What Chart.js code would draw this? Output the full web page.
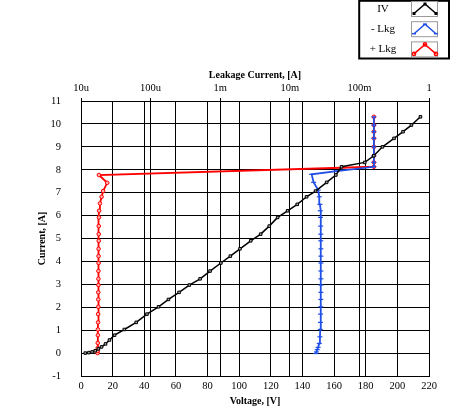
<!DOCTYPE html>
<html>
<head>
<meta charset="utf-8">
<script src="https://cdn.jsdelivr.net/npm/chart.js@4.4.0/dist/chart.umd.min.js"></script>
<style>
  html, body { margin: 0; padding: 0; background: #fff; }
  #wrap { width: 450px; height: 419px; }
</style>
</head>
<body>
<div id="wrap"><canvas id="ivChart"></canvas></div>
<script>
// IV sweep: voltage [V] vs current [A]
const ivVoltage = [2.7, 5.0, 7.0, 9.0, 11.0, 13.0, 15.5, 18.0, 21.2, 27.4, 34.9, 41.7, 49.0, 55.3, 62.0, 68.5,
    75.3, 81.6, 88.4, 94.4, 100.5, 107.3, 113.6, 119.0, 124.3, 130.6, 136.7, 142.6, 148.3, 155.3, 161.1,
    164.7, 179.4, 185.1, 190.6, 197.9, 203.6, 208.9, 214.6];
const ivCurrent = [0.00, 0.02, 0.05, 0.10, 0.18, 0.27, 0.40, 0.57, 0.78, 1.03, 1.34, 1.70, 2.02, 2.34, 2.65, 2.97,
    3.24, 3.58, 3.93, 4.23, 4.55, 4.90, 5.19, 5.54, 5.92, 6.21, 6.49, 6.82, 7.07, 7.45, 7.77,
    8.13, 8.32, 8.61, 9.00, 9.37, 9.66, 9.95, 10.31];

// negative leakage: leakage [A] vs current [A]
const negLeak = [0.0236, 0.0241, 0.0248, 0.0255, 0.0265, 0.0271, 0.0274, 0.0276, 0.0277, 0.0278, 0.0279, 0.0280,
    0.0280, 0.0280, 0.0280, 0.0280, 0.0280, 0.0280, 0.0279, 0.0279, 0.0278, 0.0276, 0.0274, 0.0271, 0.0265,
    0.0256, 0.0220, 0.0206, 0.0471, 0.1615, 0.1615, 0.1615, 0.1615, 0.1615, 0.1615, 0.1615, 0.1615];
const negCurrent = [-0.02, 0.05, 0.15, 0.25, 0.42, 0.71, 1.03, 1.34, 1.70, 2.02, 2.34, 2.65,
    2.97, 3.24, 3.58, 3.93, 4.23, 4.55, 4.90, 5.19, 5.54, 5.92, 6.21, 6.49, 6.82,
    7.11, 7.45, 7.80, 7.94, 8.13, 8.32, 8.61, 9.00, 9.37, 9.66, 9.95, 10.31];

// positive leakage: leakage [A] vs current [A]
const posLeak = [1.73e-5, 1.74e-5, 1.74e-5, 1.74e-5, 1.75e-5, 1.75e-5, 1.76e-5, 1.76e-5, 1.77e-5, 1.77e-5,
    1.77e-5, 1.78e-5, 1.78e-5, 1.78e-5, 1.79e-5, 1.79e-5, 1.79e-5, 1.80e-5, 1.80e-5, 1.80e-5, 1.81e-5,
    1.82e-5, 1.87e-5, 1.98e-5, 2.08e-5, 2.38e-5, 1.81e-5, 0.1615, 0.1615, 0.1615, 0.1615, 0.1615, 0.1615,
    0.1615, 0.1615];
const posCurrent = [0.00, 0.10, 0.22, 0.44, 0.78, 1.03, 1.34, 1.70, 2.02, 2.34,
    2.65, 2.97, 3.24, 3.58, 3.93, 4.23, 4.55, 4.90, 5.19, 5.54, 5.92,
    6.21, 6.53, 6.82, 7.07, 7.43, 7.77, 8.13, 8.32, 8.61, 9.00, 9.37, 9.66,
    9.95, 10.31];

const leakTicks = [1e-5, 1e-4, 1e-3, 1e-2, 1e-1, 1];
const leakTickLabels = ['10u', '100u', '1m', '10m', '100m', '1'];

const legendLabels = ['IV', '- Lkg', '+ Lkg'];
const legendColors = ['#000000', '#1f4fe6', '#ff0000'];

const serif = '"Liberation Serif", "Times New Roman", serif';

function toPoints(xs, ys) {
    return xs.map((x, i) => ({ x: x, y: ys[i] }));
}

// boxed legend in the top right corner
const boxLegend = {
    id: 'boxLegend',
    afterDraw(chart) {
        const ctx = chart.ctx;
        ctx.save();
        ctx.strokeStyle = '#000';
        ctx.lineWidth = 2;
        ctx.strokeRect(359.2, 0.8, 89.8, 57.7);
        ctx.font = '11px ' + serif;
        ctx.textAlign = 'center';
        ctx.textBaseline = 'middle';
        legendLabels.forEach((label, i) => {
            const cy = 9 + i * 20.2;
            ctx.fillStyle = '#000';
            ctx.fillText(label, 383, cy);
            ctx.strokeStyle = '#9a9a9a';
            ctx.lineWidth = 1;
            ctx.strokeRect(411.5, cy - 7.5, 26, 15);
            const pts = [[414, cy + 4.5], [425, cy - 5], [436, cy + 4.5]];
            ctx.strokeStyle = legendColors[i];
            ctx.lineWidth = 1.5;
            ctx.beginPath();
            pts.forEach((p, k) => (k ? ctx.lineTo(p[0], p[1]) : ctx.moveTo(p[0], p[1])));
            ctx.stroke();
            pts.forEach(p => {
                ctx.beginPath();
                if (i === 0) {
                    ctx.fillStyle = '#000';
                    ctx.fillRect(p[0] - 1.5, p[1] - 1.5, 3, 3);
                } else if (i === 1) {
                    ctx.moveTo(p[0] - 2, p[1]);
                    ctx.lineTo(p[0] + 2, p[1]);
                    ctx.stroke();
                } else {
                    ctx.arc(p[0], p[1], 1.6, 0, Math.PI * 2);
                    ctx.stroke();
                }
            });
        });
        ctx.restore();
    }
};

const ctx = document.getElementById('ivChart').getContext('2d');
new Chart(ctx, {
    type: 'scatter',
    data: {
        datasets: [
            {
                label: 'IV',
                data: toPoints(ivVoltage, ivCurrent),
                xAxisID: 'x',
                yAxisID: 'y',
                showLine: true,
                borderColor: '#000',
                borderWidth: 1.5,
                pointStyle: 'rect',
                pointRadius: 1.8,
                pointBorderWidth: 1,
                pointBorderColor: '#000',
                pointBackgroundColor: '#aaa'
            },
            {
                label: '- Lkg',
                data: toPoints(negLeak, negCurrent),
                xAxisID: 'xLeak',
                yAxisID: 'y',
                showLine: true,
                borderColor: '#1f4fe6',
                borderWidth: 1.8,
                pointStyle: 'line',
                pointRadius: 2.5,
                pointBorderWidth: 1.2,
                pointBorderColor: '#1f4fe6'
            },
            {
                label: '+ Lkg',
                data: toPoints(posLeak, posCurrent),
                xAxisID: 'xLeak',
                yAxisID: 'y',
                showLine: true,
                borderColor: '#ff0000',
                borderWidth: 1.8,
                pointStyle: 'circle',
                pointRadius: 1.8,
                pointBorderWidth: 1,
                pointBorderColor: '#ff0000',
                pointBackgroundColor: '#ffb3b3'
            }
        ]
    },
    options: {
        responsive: true,
        maintainAspectRatio: false,
        animation: false,
        layout: { padding: { left: 0, top: 60, right: 21, bottom: 0 } },
        plugins: {
            legend: { display: false },
            tooltip: { enabled: false }
        },
        scales: {
            x: {
                type: 'linear',
                position: 'bottom',
                min: 0,
                max: 220,
                ticks: { stepSize: 20, color: '#000', padding: 4, maxRotation: 0, font: { family: serif, size: 10.5 } },
                grid: { color: '#000', lineWidth: 1, drawTicks: false },
                border: { color: '#000', width: 1 },
                title: {
                    display: true,
                    text: 'Voltage, [V]',
                    color: '#000',
                    font: { family: serif, size: 10, weight: 'bold' },
                    padding: { top: 0, bottom: 12 }
                },
                afterFit: s => { s.height = 43; }
            },
            xLeak: {
                type: 'logarithmic',
                position: 'top',
                min: 1e-5,
                max: 1,
                afterBuildTicks: s => { s.ticks = leakTicks.map(v => ({ value: v })); },
                ticks: {
                    autoSkip: false,
                    maxRotation: 0,
                    color: '#000',
                    padding: 3,
                    font: { family: serif, size: 10.5 },
                    callback: (v, i) => leakTickLabels[i]
                },
                grid: { color: '#000', lineWidth: 1, tickLength: 3 },
                border: { color: '#000', width: 1 },
                title: {
                    display: true,
                    text: 'Leakage Current, [A]',
                    color: '#000',
                    font: { family: serif, size: 10, weight: 'bold' },
                    padding: { top: 9, bottom: 0 }
                },
                afterFit: s => { s.height = 41; }
            },
            y: {
                type: 'linear',
                position: 'left',
                min: -1,
                max: 11,
                ticks: { stepSize: 1, color: '#000', padding: 20, font: { family: serif, size: 10.5 } },
                grid: { color: '#000', lineWidth: 1, drawTicks: false },
                border: { color: '#000', width: 1 },
                title: {
                    display: true,
                    text: 'Current, [A]',
                    color: '#000',
                    font: { family: serif, size: 10, weight: 'bold' },
                    padding: { top: 36, bottom: 0 }
                },
                afterFit: s => { s.width = 81; }
            }
        }
    },
    plugins: [boxLegend]
});
</script>
</body>
</html>
